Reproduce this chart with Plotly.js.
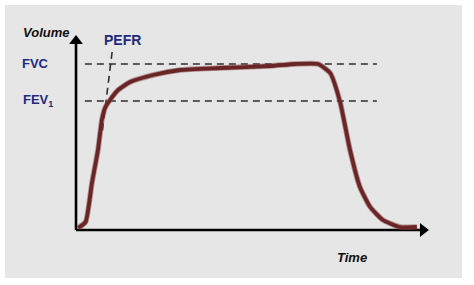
<!DOCTYPE html>
<html>
<head>
<meta charset="utf-8">
<script src="https://cdn.plot.ly/plotly-3.0.1.min.js"></script>
<style>
html,body{margin:0;padding:0;background:#ffffff;width:474px;height:285px;overflow:hidden;}
#chart{position:absolute;left:5px;top:5px;width:457px;height:273px;}
</style>
</head>
<body>
<div id="chart"></div>
<script>
// Volume-time spirogram (arbitrary units)
var timeVals   = [0.06, 0.27, 0.45, 0.62, 0.73, 0.82, 0.96, 1.19, 1.53, 2.18, 2.94, 4.07, 5.48, 6.19, 6.84, 7.18, 7.46, 7.74, 8.02, 8.31, 8.67, 9.15, 9.63];
var volumeVals = [0.10, 0.40, 2.35, 4.00, 5.50, 6.10, 6.50, 7.00, 7.40, 7.75, 8.00, 8.10, 8.20, 8.30, 8.30, 7.85, 6.40, 4.00, 2.15, 1.15, 0.50, 0.15, 0.15];
var fvc = 8.3;
var fev1 = 6.45;
var refLineX = [0.25, 8.5];
var pefrTime = [1.02, 0.73];
var pefrVol  = [8.9, 4.75];
var axisTop = 9.45;
var axisEnd = 9.8;
var labels = {yTitle: 'Volume', xTitle: 'Time', fvc: 'FVC', fev1: 'FEV<sub>1</sub>', pefr: 'PEFR'};

var navy = '#1f2a7c';
var font = 'Liberation Sans, Arial, sans-serif';
var dashStyle = {color: '#2e2e2e', width: 1.6, dash: '7px,5px'};
var axisStyle = {color: '#000', width: 2.6};

var traces = [
  {x: refLineX, y: [fvc, fvc], mode: 'lines', line: dashStyle, hoverinfo: 'skip'},
  {x: refLineX, y: [fev1, fev1], mode: 'lines', line: dashStyle, hoverinfo: 'skip'},
  {x: pefrTime, y: pefrVol, mode: 'lines', line: dashStyle, hoverinfo: 'skip'},
  {x: [0, 0], y: [0, axisTop], mode: 'lines', line: axisStyle, hoverinfo: 'skip'},
  {x: [0, axisEnd], y: [0, 0], mode: 'lines', line: axisStyle, hoverinfo: 'skip'},
  {x: [0], y: [axisTop], mode: 'markers', marker: {symbol: 'triangle-up', size: 12, color: '#000'}, hoverinfo: 'skip'},
  {x: [axisEnd], y: [0], mode: 'markers', marker: {symbol: 'triangle-right', size: 12, color: '#000'}, hoverinfo: 'skip'},
  {x: timeVals, y: volumeVals, mode: 'lines', line: {color: '#8a4a4a', width: 5.5, shape: 'spline', smoothing: 0.5}, hoverinfo: 'skip', opacity: 0.55},
  {x: timeVals, y: volumeVals, mode: 'lines', line: {color: '#6a2626', width: 3.8, shape: 'spline', smoothing: 0.5}, hoverinfo: 'skip'}
];

var layout = {
  width: 457, height: 273,
  margin: {l: 0, r: 0, t: 0, b: 0, pad: 0},
  paper_bgcolor: '#e6e6e6',
  plot_bgcolor: 'rgba(0,0,0,0)',
  showlegend: false,
  xaxis: {range: [-2.006, 10.904], visible: false, fixedrange: true},
  yaxis: {range: [-2.4, 11.25], visible: false, fixedrange: true},
  annotations: [
    {x: -0.85, y: 9.9, xref: 'x', yref: 'y', text: '<b><i>' + labels.yTitle + '</i></b>', showarrow: false, font: {family: font, size: 13, color: '#111'}},
    {x: 7.8, y: -1.35, xref: 'x', yref: 'y', text: '<b><i>' + labels.xTitle + '</i></b>', showarrow: false, font: {family: font, size: 13, color: '#111'}},
    {x: 1.3, y: 9.5, xref: 'x', yref: 'y', text: '<b>' + labels.pefr + '</b>', showarrow: false, font: {family: font, size: 14, color: navy}},
    {x: -1.14, y: fvc + 0.05, xref: 'x', yref: 'y', text: '<b>' + labels.fvc + '</b>', showarrow: false, font: {family: font, size: 13, color: navy}},
    {x: -1.07, y: fev1 + 0.05, xref: 'x', yref: 'y', text: '<b>' + labels.fev1 + '</b>', showarrow: false, font: {family: font, size: 13, color: navy}}
  ]
};

Plotly.newPlot('chart', traces, layout, {displayModeBar: false, staticPlot: true});
</script>
</body>
</html>
